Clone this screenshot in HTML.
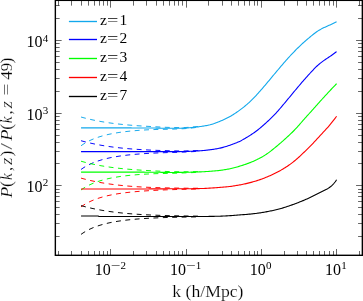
<!DOCTYPE html>
<html><head><meta charset="utf-8"><style>
html,body{margin:0;padding:0;background:#fff;}
svg{display:block;}
text{font-family:"Liberation Serif",serif;fill:#000;}
.al{stroke:#fff;stroke-width:0.18px;}
</style></head><body>
<svg width="363" height="301" viewBox="0 0 363 301">
<g stroke-linecap="butt" stroke-linejoin="round">
<path d="M81.05 127.90L82.05 127.90L83.05 127.90L84.05 127.90L85.05 127.90L86.05 127.90L87.05 127.90L88.05 127.90L89.05 127.90L90.05 127.90L91.05 127.90L92.05 127.90L93.05 127.90L94.05 127.90L95.05 127.90L96.05 127.90L97.05 127.90L98.05 127.90L99.05 127.90L100.05 127.90L101.05 127.90L102.05 127.90L103.05 127.90L104.05 127.90L105.05 127.90L106.05 127.90L107.05 127.90L108.05 127.90L109.05 127.90L110.05 127.90L111.05 127.90L112.05 127.90L113.05 127.90L114.05 127.90L115.05 127.90L116.05 127.90L117.05 127.90L118.05 127.90L119.05 127.90L120.05 127.90L121.05 127.90L122.05 127.91L123.05 127.91L124.05 127.91L125.05 127.91L126.05 127.91L127.05 127.91L128.05 127.92L129.05 127.92L130.05 127.92L131.05 127.92L132.05 127.93L133.05 127.93L134.05 127.93L135.05 127.94L136.05 127.94L137.05 127.94L138.05 127.95L139.05 127.95L140.05 127.95L141.05 127.96L142.05 127.96L143.05 127.97L144.05 127.97L145.05 127.98L146.05 127.98L147.05 127.99L148.05 127.99L149.05 128.00L150.05 128.01L151.05 128.02L152.05 128.03L153.05 128.04L154.05 128.05L155.05 128.07L156.05 128.09L157.05 128.10L158.05 128.12L159.05 128.14L160.05 128.16L161.05 128.18L162.05 128.20L163.05 128.22L164.05 128.23L165.05 128.25L166.05 128.26L167.05 128.27L168.05 128.28L169.05 128.29L170.05 128.29L171.05 128.29L172.05 128.29L173.05 128.28L174.05 128.28L175.05 128.27L176.05 128.26L177.05 128.25L178.05 128.23L179.05 128.22L180.05 128.20L181.05 128.18L182.05 128.15L183.05 128.12L184.05 128.09L185.05 128.04L186.05 127.99L187.05 127.92L188.05 127.85L189.05 127.77L190.05 127.68L191.05 127.59L192.05 127.49L193.05 127.39L194.05 127.29L195.05 127.18L196.05 127.07L197.05 126.95L198.05 126.83L199.05 126.70L200.05 126.57L201.05 126.43L202.05 126.29L203.05 126.14L204.05 125.98L205.05 125.82L206.05 125.64L207.05 125.45L208.05 125.24L209.05 125.02L210.05 124.78L211.05 124.51L212.05 124.22L213.05 123.91L214.05 123.58L215.05 123.22L216.05 122.85L217.05 122.47L218.05 122.07L219.05 121.67L220.05 121.25L221.05 120.83L222.05 120.40L223.05 119.96L224.05 119.50L225.05 119.04L226.05 118.56L227.05 118.06L228.05 117.55L229.05 117.02L230.05 116.47L231.05 115.90L232.05 115.31L233.05 114.70L234.05 114.06L235.05 113.41L236.05 112.74L237.05 112.05L238.05 111.35L239.05 110.63L240.05 109.90L241.05 109.16L242.05 108.39L243.05 107.62L244.05 106.82L245.05 106.01L246.05 105.18L247.05 104.32L248.05 103.45L249.05 102.55L250.05 101.62L251.05 100.67L252.05 99.69L253.05 98.68L254.05 97.65L255.05 96.60L256.05 95.52L257.05 94.44L258.05 93.33L259.05 92.22L260.05 91.09L261.05 89.95L262.05 88.80L263.05 87.64L264.05 86.47L265.05 85.29L266.05 84.11L267.05 82.92L268.05 81.72L269.05 80.53L270.05 79.33L271.05 78.13L272.05 76.93L273.05 75.72L274.05 74.52L275.05 73.32L276.05 72.12L277.05 70.92L278.05 69.73L279.05 68.54L280.05 67.36L281.05 66.19L282.05 65.02L283.05 63.86L284.05 62.71L285.05 61.56L286.05 60.43L287.05 59.30L288.05 58.19L289.05 57.09L290.05 56.00L291.05 54.92L292.05 53.86L293.05 52.80L294.05 51.76L295.05 50.74L296.05 49.72L297.05 48.73L298.05 47.74L299.05 46.77L300.05 45.81L301.05 44.87L302.05 43.94L303.05 43.03L304.05 42.13L305.05 41.24L306.05 40.37L307.05 39.51L308.05 38.65L309.05 37.81L310.05 36.98L311.05 36.16L312.05 35.35L313.05 34.55L314.05 33.77L315.05 33.01L316.05 32.27L317.05 31.57L318.05 30.90L319.05 30.26L320.05 29.66L321.05 29.11L322.05 28.58L323.05 28.09L324.05 27.61L325.05 27.16L326.05 26.71L327.05 26.27L328.05 25.82L329.05 25.37L330.05 24.91L331.05 24.44L332.05 23.96L333.05 23.47L334.05 22.97L335.05 22.47L336.05 21.96L336.58 21.69" stroke="#12a8ec" stroke-width="1.1" fill="none"/>
<path d="M81.05 117.03L82.05 117.31L83.05 117.58L84.05 117.85L85.05 118.11L86.05 118.36L87.05 118.61L88.05 118.86L89.05 119.09L90.05 119.33L91.05 119.55L92.05 119.78L93.05 119.99L94.05 120.20L95.05 120.41L96.05 120.61L97.05 120.81L98.05 121.00L99.05 121.19L100.05 121.37L101.05 121.55L102.05 121.72L103.05 121.89L104.05 122.06L105.05 122.22L106.05 122.38L107.05 122.53L108.05 122.68L109.05 122.83L110.05 122.97L111.05 123.10L112.05 123.24L113.05 123.37L114.05 123.50L115.05 123.62L116.05 123.74L117.05 123.86L118.05 123.98L119.05 124.09L120.05 124.20L121.05 124.30L122.05 124.41L123.05 124.51L124.05 124.61L125.05 124.70L126.05 124.80L127.05 124.89L128.05 124.98L129.05 125.07L130.05 125.15L131.05 125.23L132.05 125.31L133.05 125.39L134.05 125.47L135.05 125.54L136.05 125.62L137.05 125.69L138.05 125.76L139.05 125.83L140.05 125.89L141.05 125.96L142.05 126.02L143.05 126.08L144.05 126.14L145.05 126.20L146.05 126.26L147.05 126.31L148.05 126.37L149.05 126.42L150.05 126.48L151.05 126.53L152.05 126.58L153.05 126.64L154.05 126.70L155.05 126.75L156.05 126.81L157.05 126.86L158.05 126.92L159.05 126.97L160.05 127.03L161.05 127.08L162.05 127.13L163.05 127.18L164.05 127.23L165.05 127.27L166.05 127.32L167.05 127.35L168.05 127.39L169.05 127.42L170.05 127.45L171.05 127.47L172.05 127.50L173.05 127.52L174.05 127.53L175.05 127.55L176.05 127.56L177.05 127.57L178.05 127.57L179.05 127.58L180.05 127.58L181.05 127.58L182.05 127.57L183.05 127.56L184.05 127.54L185.05 127.51L186.05 127.47L187.05 127.42L188.05 127.36L189.05 127.30L190.05 127.23L191.05 127.15L192.05 127.06L193.05 126.97L194.05 126.88L195.05 126.79L196.05 126.68L197.05 126.58L198.05 126.47L199.05 126.35" stroke="#12a8ec" stroke-width="1.0" fill="none" stroke-dasharray="4.9 4.5"/>
<path d="M81.05 145.77L82.05 145.05L83.05 144.37L84.05 143.73L85.05 143.11L86.05 142.53L87.05 141.97L88.05 141.44L89.05 140.93L90.05 140.45L91.05 139.99L92.05 139.55L93.05 139.13L94.05 138.72L95.05 138.34L96.05 137.97L97.05 137.61L98.05 137.27L99.05 136.94L100.05 136.63L101.05 136.33L102.05 136.04L103.05 135.76L104.05 135.49L105.05 135.23L106.05 134.98L107.05 134.74L108.05 134.51L109.05 134.29L110.05 134.08L111.05 133.88L112.05 133.68L113.05 133.49L114.05 133.30L115.05 133.13L116.05 132.96L117.05 132.79L118.05 132.63L119.05 132.48L120.05 132.33L121.05 132.19L122.05 132.05L123.05 131.92L124.05 131.79L125.05 131.67L126.05 131.55L127.05 131.44L128.05 131.33L129.05 131.22L130.05 131.12L131.05 131.02L132.05 130.93L133.05 130.83L134.05 130.75L135.05 130.66L136.05 130.58L137.05 130.50L138.05 130.42L139.05 130.35L140.05 130.28L141.05 130.21L142.05 130.14L143.05 130.08L144.05 130.02L145.05 129.96L146.05 129.90L147.05 129.85L148.05 129.80L149.05 129.75L150.05 129.70L151.05 129.66L152.05 129.62L153.05 129.58L154.05 129.55L155.05 129.52L156.05 129.49L157.05 129.46L158.05 129.44L159.05 129.42L160.05 129.40L161.05 129.38L162.05 129.36L163.05 129.35L164.05 129.33L165.05 129.31L166.05 129.29L167.05 129.27L168.05 129.25L169.05 129.22L170.05 129.20L171.05 129.17L172.05 129.14L173.05 129.11L174.05 129.08L175.05 129.04L176.05 129.01L177.05 128.98L178.05 128.94L179.05 128.90L180.05 128.86L181.05 128.82L182.05 128.78L183.05 128.73L184.05 128.67L185.05 128.61L186.05 128.54L187.05 128.46L188.05 128.37L189.05 128.27L190.05 128.17L191.05 128.06L192.05 127.95L193.05 127.84L194.05 127.72L195.05 127.60L196.05 127.47L197.05 127.34L198.05 127.21L199.05 127.07" stroke="#12a8ec" stroke-width="1.0" fill="none" stroke-dasharray="4.9 4.5"/>
<path d="M81.05 151.60L82.05 151.60L83.05 151.60L84.05 151.60L85.05 151.60L86.05 151.60L87.05 151.60L88.05 151.60L89.05 151.60L90.05 151.60L91.05 151.60L92.05 151.60L93.05 151.60L94.05 151.60L95.05 151.60L96.05 151.60L97.05 151.60L98.05 151.60L99.05 151.60L100.05 151.60L101.05 151.60L102.05 151.60L103.05 151.60L104.05 151.60L105.05 151.60L106.05 151.60L107.05 151.60L108.05 151.60L109.05 151.60L110.05 151.60L111.05 151.60L112.05 151.60L113.05 151.60L114.05 151.60L115.05 151.60L116.05 151.60L117.05 151.60L118.05 151.60L119.05 151.60L120.05 151.60L121.05 151.60L122.05 151.60L123.05 151.60L124.05 151.60L125.05 151.60L126.05 151.60L127.05 151.60L128.05 151.60L129.05 151.60L130.05 151.60L131.05 151.60L132.05 151.60L133.05 151.60L134.05 151.60L135.05 151.60L136.05 151.60L137.05 151.60L138.05 151.60L139.05 151.60L140.05 151.60L141.05 151.60L142.05 151.60L143.05 151.60L144.05 151.60L145.05 151.60L146.05 151.60L147.05 151.60L148.05 151.60L149.05 151.60L150.05 151.60L151.05 151.60L152.05 151.60L153.05 151.60L154.05 151.60L155.05 151.60L156.05 151.60L157.05 151.60L158.05 151.60L159.05 151.60L160.05 151.60L161.05 151.60L162.05 151.60L163.05 151.60L164.05 151.60L165.05 151.60L166.05 151.60L167.05 151.60L168.05 151.60L169.05 151.60L170.05 151.60L171.05 151.60L172.05 151.60L173.05 151.60L174.05 151.60L175.05 151.60L176.05 151.60L177.05 151.60L178.05 151.59L179.05 151.59L180.05 151.58L181.05 151.57L182.05 151.55L183.05 151.53L184.05 151.51L185.05 151.48L186.05 151.45L187.05 151.41L188.05 151.37L189.05 151.34L190.05 151.30L191.05 151.25L192.05 151.21L193.05 151.17L194.05 151.12L195.05 151.07L196.05 151.02L197.05 150.96L198.05 150.90L199.05 150.84L200.05 150.77L201.05 150.70L202.05 150.62L203.05 150.53L204.05 150.44L205.05 150.34L206.05 150.24L207.05 150.13L208.05 150.01L209.05 149.90L210.05 149.77L211.05 149.64L212.05 149.51L213.05 149.37L214.05 149.22L215.05 149.06L216.05 148.89L217.05 148.72L218.05 148.53L219.05 148.33L220.05 148.11L221.05 147.88L222.05 147.63L223.05 147.36L224.05 147.08L225.05 146.79L226.05 146.48L227.05 146.16L228.05 145.84L229.05 145.50L230.05 145.16L231.05 144.81L232.05 144.46L233.05 144.09L234.05 143.72L235.05 143.33L236.05 142.93L237.05 142.52L238.05 142.08L239.05 141.63L240.05 141.16L241.05 140.66L242.05 140.13L243.05 139.59L244.05 139.02L245.05 138.44L246.05 137.84L247.05 137.23L248.05 136.61L249.05 135.99L250.05 135.36L251.05 134.72L252.05 134.07L253.05 133.40L254.05 132.72L255.05 132.01L256.05 131.27L257.05 130.51L258.05 129.73L259.05 128.92L260.05 128.08L261.05 127.24L262.05 126.37L263.05 125.50L264.05 124.61L265.05 123.72L266.05 122.81L267.05 121.90L268.05 120.98L269.05 120.05L270.05 119.11L271.05 118.16L272.05 117.19L273.05 116.19L274.05 115.17L275.05 114.12L276.05 113.04L277.05 111.94L278.05 110.81L279.05 109.66L280.05 108.50L281.05 107.33L282.05 106.15L283.05 104.96L284.05 103.76L285.05 102.56L286.05 101.36L287.05 100.16L288.05 98.95L289.05 97.74L290.05 96.54L291.05 95.33L292.05 94.13L293.05 92.92L294.05 91.72L295.05 90.52L296.05 89.32L297.05 88.12L298.05 86.93L299.05 85.74L300.05 84.57L301.05 83.39L302.05 82.23L303.05 81.07L304.05 79.93L305.05 78.79L306.05 77.67L307.05 76.55L308.05 75.44L309.05 74.34L310.05 73.25L311.05 72.16L312.05 71.09L313.05 70.03L314.05 68.99L315.05 67.97L316.05 66.98L317.05 66.02L318.05 65.10L319.05 64.22L320.05 63.39L321.05 62.59L322.05 61.84L323.05 61.12L324.05 60.42L325.05 59.74L326.05 59.08L327.05 58.41L328.05 57.75L329.05 57.07L330.05 56.38L331.05 55.68L332.05 54.96L333.05 54.23L334.05 53.49L335.05 52.74L336.05 51.98L336.58 51.59" stroke="#0000ff" stroke-width="1.1" fill="none"/>
<path d="M81.05 140.73L82.05 141.01L83.05 141.28L84.05 141.55L85.05 141.81L86.05 142.06L87.05 142.31L88.05 142.56L89.05 142.79L90.05 143.03L91.05 143.25L92.05 143.48L93.05 143.69L94.05 143.90L95.05 144.11L96.05 144.31L97.05 144.51L98.05 144.70L99.05 144.89L100.05 145.07L101.05 145.25L102.05 145.42L103.05 145.59L104.05 145.76L105.05 145.92L106.05 146.08L107.05 146.23L108.05 146.38L109.05 146.53L110.05 146.67L111.05 146.80L112.05 146.94L113.05 147.07L114.05 147.20L115.05 147.32L116.05 147.44L117.05 147.56L118.05 147.67L119.05 147.79L120.05 147.89L121.05 148.00L122.05 148.10L123.05 148.20L124.05 148.30L125.05 148.39L126.05 148.49L127.05 148.58L128.05 148.66L129.05 148.75L130.05 148.83L131.05 148.91L132.05 148.99L133.05 149.06L134.05 149.14L135.05 149.21L136.05 149.28L137.05 149.35L138.05 149.41L139.05 149.48L140.05 149.54L141.05 149.60L142.05 149.66L143.05 149.71L144.05 149.77L145.05 149.82L146.05 149.87L147.05 149.93L148.05 149.97L149.05 150.02L150.05 150.07L151.05 150.11L152.05 150.16L153.05 150.20L154.05 150.24L155.05 150.28L156.05 150.32L157.05 150.36L158.05 150.40L159.05 150.43L160.05 150.47L161.05 150.50L162.05 150.53L163.05 150.56L164.05 150.59L165.05 150.62L166.05 150.65L167.05 150.68L168.05 150.71L169.05 150.74L170.05 150.76L171.05 150.79L172.05 150.81L173.05 150.83L174.05 150.86L175.05 150.88L176.05 150.90L177.05 150.92L178.05 150.94L179.05 150.95L180.05 150.96L181.05 150.97L182.05 150.97L183.05 150.97L184.05 150.96L185.05 150.95L186.05 150.93L187.05 150.91L188.05 150.89L189.05 150.86L190.05 150.84L191.05 150.81L192.05 150.78L193.05 150.75L194.05 150.71L195.05 150.68L196.05 150.64L197.05 150.59L198.05 150.54L199.05 150.49" stroke="#0000ff" stroke-width="1.0" fill="none" stroke-dasharray="4.9 4.5"/>
<path d="M81.05 169.47L82.05 168.75L83.05 168.07L84.05 167.43L85.05 166.81L86.05 166.23L87.05 165.67L88.05 165.14L89.05 164.63L90.05 164.15L91.05 163.69L92.05 163.25L93.05 162.83L94.05 162.42L95.05 162.04L96.05 161.67L97.05 161.31L98.05 160.97L99.05 160.64L100.05 160.33L101.05 160.03L102.05 159.74L103.05 159.46L104.05 159.19L105.05 158.93L106.05 158.68L107.05 158.44L108.05 158.21L109.05 157.99L110.05 157.78L111.05 157.58L112.05 157.38L113.05 157.19L114.05 157.00L115.05 156.83L116.05 156.66L117.05 156.49L118.05 156.33L119.05 156.18L120.05 156.03L121.05 155.89L122.05 155.75L123.05 155.61L124.05 155.49L125.05 155.36L126.05 155.24L127.05 155.12L128.05 155.01L129.05 154.90L130.05 154.80L131.05 154.70L132.05 154.60L133.05 154.51L134.05 154.41L135.05 154.32L136.05 154.24L137.05 154.16L138.05 154.08L139.05 154.00L140.05 153.92L141.05 153.85L142.05 153.78L143.05 153.71L144.05 153.65L145.05 153.58L146.05 153.52L147.05 153.46L148.05 153.40L149.05 153.35L150.05 153.29L151.05 153.24L152.05 153.19L153.05 153.14L154.05 153.09L155.05 153.05L156.05 153.00L157.05 152.96L158.05 152.92L159.05 152.88L160.05 152.84L161.05 152.80L162.05 152.76L163.05 152.73L164.05 152.69L165.05 152.66L166.05 152.63L167.05 152.60L168.05 152.56L169.05 152.54L170.05 152.51L171.05 152.48L172.05 152.45L173.05 152.43L174.05 152.40L175.05 152.38L176.05 152.35L177.05 152.33L178.05 152.30L179.05 152.27L180.05 152.25L181.05 152.21L182.05 152.18L183.05 152.14L184.05 152.10L185.05 152.05L186.05 152.00L187.05 151.95L188.05 151.89L189.05 151.84L190.05 151.78L191.05 151.73L192.05 151.67L193.05 151.61L194.05 151.55L195.05 151.49L196.05 151.42L197.05 151.36L198.05 151.28L199.05 151.21" stroke="#0000ff" stroke-width="1.0" fill="none" stroke-dasharray="4.9 4.5"/>
<path d="M81.05 172.10L82.05 172.10L83.05 172.10L84.05 172.10L85.05 172.10L86.05 172.10L87.05 172.10L88.05 172.10L89.05 172.10L90.05 172.10L91.05 172.10L92.05 172.10L93.05 172.10L94.05 172.10L95.05 172.10L96.05 172.10L97.05 172.10L98.05 172.10L99.05 172.10L100.05 172.10L101.05 172.10L102.05 172.10L103.05 172.10L104.05 172.10L105.05 172.10L106.05 172.10L107.05 172.10L108.05 172.10L109.05 172.10L110.05 172.10L111.05 172.10L112.05 172.10L113.05 172.10L114.05 172.10L115.05 172.10L116.05 172.10L117.05 172.10L118.05 172.10L119.05 172.10L120.05 172.10L121.05 172.10L122.05 172.11L123.05 172.11L124.05 172.11L125.05 172.11L126.05 172.11L127.05 172.11L128.05 172.12L129.05 172.12L130.05 172.12L131.05 172.12L132.05 172.13L133.05 172.13L134.05 172.13L135.05 172.14L136.05 172.14L137.05 172.14L138.05 172.15L139.05 172.15L140.05 172.16L141.05 172.16L142.05 172.16L143.05 172.17L144.05 172.17L145.05 172.18L146.05 172.18L147.05 172.19L148.05 172.19L149.05 172.20L150.05 172.20L151.05 172.21L152.05 172.22L153.05 172.23L154.05 172.24L155.05 172.25L156.05 172.27L157.05 172.28L158.05 172.29L159.05 172.31L160.05 172.32L161.05 172.34L162.05 172.35L163.05 172.37L164.05 172.38L165.05 172.39L166.05 172.40L167.05 172.42L168.05 172.42L169.05 172.43L170.05 172.44L171.05 172.44L172.05 172.44L173.05 172.44L174.05 172.44L175.05 172.43L176.05 172.42L177.05 172.41L178.05 172.40L179.05 172.39L180.05 172.38L181.05 172.36L182.05 172.35L183.05 172.33L184.05 172.31L185.05 172.30L186.05 172.28L187.05 172.26L188.05 172.24L189.05 172.22L190.05 172.19L191.05 172.17L192.05 172.15L193.05 172.12L194.05 172.09L195.05 172.06L196.05 172.03L197.05 172.00L198.05 171.96L199.05 171.92L200.05 171.88L201.05 171.84L202.05 171.79L203.05 171.74L204.05 171.68L205.05 171.62L206.05 171.56L207.05 171.50L208.05 171.43L209.05 171.36L210.05 171.29L211.05 171.21L212.05 171.13L213.05 171.05L214.05 170.97L215.05 170.88L216.05 170.79L217.05 170.69L218.05 170.59L219.05 170.48L220.05 170.36L221.05 170.24L222.05 170.10L223.05 169.96L224.05 169.82L225.05 169.66L226.05 169.49L227.05 169.32L228.05 169.13L229.05 168.94L230.05 168.73L231.05 168.51L232.05 168.28L233.05 168.04L234.05 167.78L235.05 167.52L236.05 167.24L237.05 166.96L238.05 166.66L239.05 166.37L240.05 166.06L241.05 165.75L242.05 165.44L243.05 165.12L244.05 164.79L245.05 164.45L246.05 164.11L247.05 163.75L248.05 163.39L249.05 163.02L250.05 162.63L251.05 162.24L252.05 161.83L253.05 161.41L254.05 160.98L255.05 160.54L256.05 160.08L257.05 159.61L258.05 159.11L259.05 158.61L260.05 158.08L261.05 157.53L262.05 156.96L263.05 156.37L264.05 155.76L265.05 155.13L266.05 154.48L267.05 153.80L268.05 153.09L269.05 152.37L270.05 151.62L271.05 150.84L272.05 150.05L273.05 149.24L274.05 148.43L275.05 147.61L276.05 146.79L277.05 145.96L278.05 145.13L279.05 144.29L280.05 143.43L281.05 142.57L282.05 141.68L283.05 140.79L284.05 139.88L285.05 138.98L286.05 138.07L287.05 137.16L288.05 136.24L289.05 135.32L290.05 134.40L291.05 133.45L292.05 132.49L293.05 131.51L294.05 130.49L295.05 129.45L296.05 128.37L297.05 127.27L298.05 126.15L299.05 125.02L300.05 123.88L301.05 122.74L302.05 121.60L303.05 120.47L304.05 119.34L305.05 118.22L306.05 117.10L307.05 115.98L308.05 114.87L309.05 113.75L310.05 112.63L311.05 111.51L312.05 110.39L313.05 109.27L314.05 108.15L315.05 107.03L316.05 105.91L317.05 104.79L318.05 103.67L319.05 102.56L320.05 101.45L321.05 100.35L322.05 99.25L323.05 98.15L324.05 97.05L325.05 95.96L326.05 94.87L327.05 93.79L328.05 92.71L329.05 91.64L330.05 90.57L331.05 89.50L332.05 88.44L333.05 87.39L334.05 86.34L335.05 85.30L336.05 84.25L336.58 83.71" stroke="#00ff00" stroke-width="1.1" fill="none"/>
<path d="M81.05 161.23L82.05 161.51L83.05 161.78L84.05 162.05L85.05 162.31L86.05 162.56L87.05 162.81L88.05 163.06L89.05 163.29L90.05 163.53L91.05 163.75L92.05 163.98L93.05 164.19L94.05 164.40L95.05 164.61L96.05 164.81L97.05 165.01L98.05 165.20L99.05 165.39L100.05 165.57L101.05 165.75L102.05 165.92L103.05 166.09L104.05 166.26L105.05 166.42L106.05 166.58L107.05 166.73L108.05 166.88L109.05 167.03L110.05 167.17L111.05 167.30L112.05 167.44L113.05 167.57L114.05 167.70L115.05 167.82L116.05 167.94L117.05 168.06L118.05 168.18L119.05 168.29L120.05 168.40L121.05 168.50L122.05 168.61L123.05 168.71L124.05 168.81L125.05 168.91L126.05 169.00L127.05 169.09L128.05 169.18L129.05 169.27L130.05 169.35L131.05 169.44L132.05 169.52L133.05 169.59L134.05 169.67L135.05 169.75L136.05 169.82L137.05 169.89L138.05 169.96L139.05 170.03L140.05 170.09L141.05 170.16L142.05 170.22L143.05 170.28L144.05 170.34L145.05 170.40L146.05 170.46L147.05 170.51L148.05 170.57L149.05 170.62L150.05 170.67L151.05 170.73L152.05 170.78L153.05 170.83L154.05 170.88L155.05 170.93L156.05 170.99L157.05 171.04L158.05 171.09L159.05 171.14L160.05 171.19L161.05 171.24L162.05 171.28L163.05 171.33L164.05 171.37L165.05 171.42L166.05 171.46L167.05 171.50L168.05 171.53L169.05 171.57L170.05 171.60L171.05 171.62L172.05 171.65L173.05 171.67L174.05 171.69L175.05 171.71L176.05 171.72L177.05 171.74L178.05 171.75L179.05 171.75L180.05 171.76L181.05 171.76L182.05 171.76L183.05 171.76L184.05 171.76L185.05 171.76L186.05 171.76L187.05 171.76L188.05 171.75L189.05 171.74L190.05 171.74L191.05 171.73L192.05 171.72L193.05 171.70L194.05 171.69L195.05 171.67L196.05 171.65L197.05 171.63L198.05 171.60L199.05 171.58" stroke="#00ff00" stroke-width="1.0" fill="none" stroke-dasharray="4.9 4.5"/>
<path d="M81.05 189.97L82.05 189.25L83.05 188.57L84.05 187.93L85.05 187.31L86.05 186.73L87.05 186.17L88.05 185.64L89.05 185.13L90.05 184.65L91.05 184.19L92.05 183.75L93.05 183.33L94.05 182.92L95.05 182.54L96.05 182.17L97.05 181.81L98.05 181.47L99.05 181.14L100.05 180.83L101.05 180.53L102.05 180.24L103.05 179.96L104.05 179.69L105.05 179.43L106.05 179.18L107.05 178.94L108.05 178.71L109.05 178.49L110.05 178.28L111.05 178.08L112.05 177.88L113.05 177.69L114.05 177.50L115.05 177.33L116.05 177.16L117.05 176.99L118.05 176.83L119.05 176.68L120.05 176.53L121.05 176.39L122.05 176.25L123.05 176.12L124.05 175.99L125.05 175.87L126.05 175.75L127.05 175.64L128.05 175.53L129.05 175.42L130.05 175.32L131.05 175.22L132.05 175.13L133.05 175.04L134.05 174.95L135.05 174.86L136.05 174.78L137.05 174.70L138.05 174.62L139.05 174.55L140.05 174.48L141.05 174.41L142.05 174.34L143.05 174.28L144.05 174.22L145.05 174.16L146.05 174.10L147.05 174.05L148.05 174.00L149.05 173.95L150.05 173.90L151.05 173.85L152.05 173.81L153.05 173.77L154.05 173.73L155.05 173.70L156.05 173.67L157.05 173.64L158.05 173.61L159.05 173.59L160.05 173.56L161.05 173.54L162.05 173.52L163.05 173.49L164.05 173.47L165.05 173.45L166.05 173.43L167.05 173.41L168.05 173.39L169.05 173.37L170.05 173.34L171.05 173.32L172.05 173.29L173.05 173.27L174.05 173.24L175.05 173.21L176.05 173.18L177.05 173.14L178.05 173.11L179.05 173.08L180.05 173.04L181.05 173.01L182.05 172.97L183.05 172.94L184.05 172.90L185.05 172.86L186.05 172.83L187.05 172.79L188.05 172.76L189.05 172.72L190.05 172.68L191.05 172.64L192.05 172.61L193.05 172.57L194.05 172.53L195.05 172.48L196.05 172.44L197.05 172.39L198.05 172.34L199.05 172.29" stroke="#00ff00" stroke-width="1.0" fill="none" stroke-dasharray="4.9 4.5"/>
<path d="M81.05 189.00L82.05 189.00L83.05 189.00L84.05 189.00L85.05 189.00L86.05 189.00L87.05 189.00L88.05 189.00L89.05 189.00L90.05 189.00L91.05 189.00L92.05 189.00L93.05 189.00L94.05 189.00L95.05 189.00L96.05 189.00L97.05 189.00L98.05 189.00L99.05 189.00L100.05 189.00L101.05 189.00L102.05 189.00L103.05 189.00L104.05 189.00L105.05 189.00L106.05 189.00L107.05 189.00L108.05 189.00L109.05 189.00L110.05 189.00L111.05 189.00L112.05 189.00L113.05 189.00L114.05 189.00L115.05 189.00L116.05 189.00L117.05 189.00L118.05 189.00L119.05 189.00L120.05 189.00L121.05 189.00L122.05 189.00L123.05 189.00L124.05 189.00L125.05 189.00L126.05 189.00L127.05 189.00L128.05 189.00L129.05 189.00L130.05 189.00L131.05 188.99L132.05 188.99L133.05 188.99L134.05 188.99L135.05 188.98L136.05 188.98L137.05 188.98L138.05 188.97L139.05 188.97L140.05 188.97L141.05 188.96L142.05 188.96L143.05 188.95L144.05 188.95L145.05 188.94L146.05 188.94L147.05 188.93L148.05 188.93L149.05 188.92L150.05 188.92L151.05 188.91L152.05 188.91L153.05 188.90L154.05 188.89L155.05 188.89L156.05 188.88L157.05 188.88L158.05 188.87L159.05 188.86L160.05 188.86L161.05 188.85L162.05 188.85L163.05 188.84L164.05 188.83L165.05 188.83L166.05 188.82L167.05 188.82L168.05 188.81L169.05 188.81L170.05 188.80L171.05 188.80L172.05 188.79L173.05 188.79L174.05 188.78L175.05 188.78L176.05 188.77L177.05 188.77L178.05 188.76L179.05 188.76L180.05 188.75L181.05 188.75L182.05 188.74L183.05 188.74L184.05 188.73L185.05 188.73L186.05 188.72L187.05 188.72L188.05 188.71L189.05 188.70L190.05 188.70L191.05 188.69L192.05 188.68L193.05 188.67L194.05 188.66L195.05 188.65L196.05 188.64L197.05 188.63L198.05 188.61L199.05 188.60L200.05 188.57L201.05 188.55L202.05 188.51L203.05 188.48L204.05 188.43L205.05 188.38L206.05 188.33L207.05 188.27L208.05 188.22L209.05 188.16L210.05 188.09L211.05 188.03L212.05 187.97L213.05 187.90L214.05 187.83L215.05 187.76L216.05 187.69L217.05 187.62L218.05 187.54L219.05 187.47L220.05 187.39L221.05 187.31L222.05 187.23L223.05 187.15L224.05 187.06L225.05 186.97L226.05 186.88L227.05 186.78L228.05 186.68L229.05 186.57L230.05 186.45L231.05 186.33L232.05 186.20L233.05 186.05L234.05 185.90L235.05 185.75L236.05 185.58L237.05 185.41L238.05 185.24L239.05 185.05L240.05 184.87L241.05 184.67L242.05 184.48L243.05 184.27L244.05 184.06L245.05 183.84L246.05 183.62L247.05 183.39L248.05 183.15L249.05 182.90L250.05 182.65L251.05 182.39L252.05 182.12L253.05 181.84L254.05 181.55L255.05 181.25L256.05 180.95L257.05 180.63L258.05 180.31L259.05 179.98L260.05 179.63L261.05 179.28L262.05 178.91L263.05 178.54L264.05 178.15L265.05 177.76L266.05 177.35L267.05 176.94L268.05 176.51L269.05 176.08L270.05 175.64L271.05 175.19L272.05 174.74L273.05 174.27L274.05 173.79L275.05 173.31L276.05 172.81L277.05 172.30L278.05 171.78L279.05 171.24L280.05 170.69L281.05 170.13L282.05 169.55L283.05 168.95L284.05 168.34L285.05 167.72L286.05 167.08L287.05 166.42L288.05 165.75L289.05 165.06L290.05 164.35L291.05 163.62L292.05 162.86L293.05 162.09L294.05 161.29L295.05 160.47L296.05 159.62L297.05 158.76L298.05 157.88L299.05 156.98L300.05 156.06L301.05 155.12L302.05 154.17L303.05 153.22L304.05 152.26L305.05 151.30L306.05 150.33L307.05 149.37L308.05 148.40L309.05 147.42L310.05 146.42L311.05 145.41L312.05 144.37L313.05 143.31L314.05 142.24L315.05 141.16L316.05 140.06L317.05 138.97L318.05 137.87L319.05 136.78L320.05 135.69L321.05 134.62L322.05 133.54L323.05 132.47L324.05 131.40L325.05 130.33L326.05 129.24L327.05 128.13L328.05 127.01L329.05 125.86L330.05 124.67L331.05 123.46L332.05 122.22L333.05 120.94L334.05 119.64L335.05 118.31L336.05 116.97L336.58 116.26" stroke="#ff0000" stroke-width="1.1" fill="none"/>
<path d="M81.05 178.13L82.05 178.41L83.05 178.68L84.05 178.95L85.05 179.21L86.05 179.46L87.05 179.71L88.05 179.96L89.05 180.19L90.05 180.43L91.05 180.65L92.05 180.88L93.05 181.09L94.05 181.30L95.05 181.51L96.05 181.71L97.05 181.91L98.05 182.10L99.05 182.29L100.05 182.47L101.05 182.65L102.05 182.82L103.05 182.99L104.05 183.16L105.05 183.32L106.05 183.48L107.05 183.63L108.05 183.78L109.05 183.93L110.05 184.07L111.05 184.20L112.05 184.34L113.05 184.47L114.05 184.60L115.05 184.72L116.05 184.84L117.05 184.96L118.05 185.07L119.05 185.19L120.05 185.29L121.05 185.40L122.05 185.50L123.05 185.60L124.05 185.70L125.05 185.79L126.05 185.89L127.05 185.97L128.05 186.06L129.05 186.14L130.05 186.23L131.05 186.30L132.05 186.38L133.05 186.45L134.05 186.52L135.05 186.59L136.05 186.66L137.05 186.72L138.05 186.79L139.05 186.85L140.05 186.90L141.05 186.96L142.05 187.01L143.05 187.07L144.05 187.12L145.05 187.17L146.05 187.21L147.05 187.26L148.05 187.30L149.05 187.34L150.05 187.39L151.05 187.43L152.05 187.46L153.05 187.50L154.05 187.54L155.05 187.57L156.05 187.60L157.05 187.63L158.05 187.67L159.05 187.70L160.05 187.72L161.05 187.75L162.05 187.78L163.05 187.80L164.05 187.83L165.05 187.85L166.05 187.88L167.05 187.90L168.05 187.92L169.05 187.94L170.05 187.96L171.05 187.98L172.05 188.00L173.05 188.02L174.05 188.04L175.05 188.05L176.05 188.07L177.05 188.09L178.05 188.10L179.05 188.12L180.05 188.13L181.05 188.15L182.05 188.16L183.05 188.17L184.05 188.18L185.05 188.20L186.05 188.21L187.05 188.22L188.05 188.22L189.05 188.23L190.05 188.24L191.05 188.25L192.05 188.25L193.05 188.26L194.05 188.26L195.05 188.26L196.05 188.26L197.05 188.26L198.05 188.26L199.05 188.25" stroke="#ff0000" stroke-width="1.0" fill="none" stroke-dasharray="4.9 4.5"/>
<path d="M81.05 206.87L82.05 206.15L83.05 205.47L84.05 204.83L85.05 204.21L86.05 203.63L87.05 203.07L88.05 202.54L89.05 202.03L90.05 201.55L91.05 201.09L92.05 200.65L93.05 200.23L94.05 199.82L95.05 199.44L96.05 199.07L97.05 198.71L98.05 198.37L99.05 198.04L100.05 197.73L101.05 197.43L102.05 197.14L103.05 196.86L104.05 196.59L105.05 196.33L106.05 196.08L107.05 195.84L108.05 195.61L109.05 195.39L110.05 195.18L111.05 194.98L112.05 194.78L113.05 194.59L114.05 194.40L115.05 194.23L116.05 194.06L117.05 193.89L118.05 193.73L119.05 193.58L120.05 193.43L121.05 193.29L122.05 193.15L123.05 193.01L124.05 192.89L125.05 192.76L126.05 192.64L127.05 192.52L128.05 192.41L129.05 192.30L130.05 192.19L131.05 192.09L132.05 191.99L133.05 191.89L134.05 191.80L135.05 191.71L136.05 191.62L137.05 191.53L138.05 191.45L139.05 191.37L140.05 191.29L141.05 191.21L142.05 191.14L143.05 191.07L144.05 191.00L145.05 190.93L146.05 190.86L147.05 190.80L148.05 190.73L149.05 190.67L150.05 190.61L151.05 190.55L152.05 190.50L153.05 190.44L154.05 190.39L155.05 190.34L156.05 190.29L157.05 190.24L158.05 190.19L159.05 190.14L160.05 190.10L161.05 190.05L162.05 190.01L163.05 189.97L164.05 189.93L165.05 189.89L166.05 189.85L167.05 189.81L168.05 189.78L169.05 189.74L170.05 189.71L171.05 189.67L172.05 189.64L173.05 189.61L174.05 189.58L175.05 189.55L176.05 189.52L177.05 189.50L178.05 189.47L179.05 189.44L180.05 189.42L181.05 189.39L182.05 189.37L183.05 189.35L184.05 189.32L185.05 189.30L186.05 189.28L187.05 189.25L188.05 189.23L189.05 189.21L190.05 189.19L191.05 189.16L192.05 189.14L193.05 189.12L194.05 189.10L195.05 189.07L196.05 189.05L197.05 189.02L198.05 189.00L199.05 188.97" stroke="#ff0000" stroke-width="1.0" fill="none" stroke-dasharray="4.9 4.5"/>
<path d="M81.05 216.00L82.05 216.00L83.05 216.00L84.05 216.00L85.05 216.00L86.05 216.00L87.05 216.00L88.05 216.00L89.05 216.00L90.05 216.00L91.05 216.00L92.05 216.00L93.05 216.00L94.05 216.00L95.05 216.00L96.05 216.00L97.05 216.00L98.05 216.00L99.05 216.50L100.05 216.50L101.05 216.50L102.05 216.50L103.05 216.50L104.05 216.50L105.05 216.50L106.05 216.50L107.05 216.50L108.05 216.50L109.05 216.50L110.05 216.50L111.05 216.50L112.05 216.50L113.05 216.50L114.05 216.50L115.05 216.50L116.05 216.50L117.05 216.50L118.05 216.50L119.05 216.50L120.05 216.50L121.05 216.50L122.05 216.50L123.05 216.50L124.05 216.50L125.05 216.50L126.05 216.50L127.05 216.50L128.05 216.50L129.05 216.50L130.05 216.50L131.05 216.50L132.05 216.50L133.05 216.50L134.05 216.50L135.05 216.50L136.05 216.50L137.05 216.50L138.05 216.50L139.05 216.50L140.05 216.50L141.05 216.50L142.05 216.50L143.05 216.50L144.05 216.50L145.05 216.50L146.05 216.50L147.05 216.50L148.05 216.50L149.05 216.50L150.05 216.50L151.05 216.50L152.05 216.50L153.05 216.50L154.05 216.50L155.05 216.50L156.05 216.50L157.05 216.50L158.05 216.50L159.05 216.50L160.05 216.50L161.05 216.50L162.05 216.50L163.05 216.50L164.05 216.50L165.05 216.50L166.05 216.50L167.05 216.50L168.05 216.50L169.05 216.50L170.05 216.50L171.05 216.50L172.05 216.50L173.05 216.50L174.05 216.50L175.05 216.50L176.05 216.50L177.05 216.50L178.05 216.50L179.05 216.50L180.05 216.50L181.05 216.50L182.05 216.50L183.05 216.50L184.05 216.50L185.05 216.50L186.05 216.50L187.05 216.50L188.05 216.50L189.05 216.50L190.05 216.50L191.05 216.50L192.05 216.50L193.05 216.50L194.05 216.50L195.05 216.50L196.05 216.50L197.05 216.50L198.05 216.50L199.05 216.50L200.05 216.50L201.05 216.49L202.05 216.49L203.05 216.48L204.05 216.48L205.05 216.47L206.05 216.46L207.05 216.45L208.05 216.43L209.05 216.42L210.05 216.40L211.05 216.39L212.05 216.37L213.05 216.35L214.05 216.33L215.05 216.31L216.05 216.29L217.05 216.26L218.05 216.24L219.05 216.21L220.05 216.18L221.05 216.15L222.05 216.11L223.05 216.07L224.05 216.03L225.05 215.97L226.05 215.92L227.05 215.86L228.05 215.80L229.05 215.73L230.05 215.66L231.05 215.59L232.05 215.51L233.05 215.44L234.05 215.36L235.05 215.29L236.05 215.21L237.05 215.13L238.05 215.05L239.05 214.97L240.05 214.90L241.05 214.82L242.05 214.74L243.05 214.67L244.05 214.59L245.05 214.51L246.05 214.43L247.05 214.35L248.05 214.26L249.05 214.17L250.05 214.08L251.05 213.99L252.05 213.89L253.05 213.78L254.05 213.67L255.05 213.56L256.05 213.43L257.05 213.30L258.05 213.16L259.05 213.02L260.05 212.87L261.05 212.71L262.05 212.54L263.05 212.37L264.05 212.20L265.05 212.02L266.05 211.84L267.05 211.65L268.05 211.46L269.05 211.27L270.05 211.08L271.05 210.88L272.05 210.68L273.05 210.47L274.05 210.26L275.05 210.03L276.05 209.80L277.05 209.55L278.05 209.29L279.05 209.02L280.05 208.74L281.05 208.45L282.05 208.16L283.05 207.85L284.05 207.54L285.05 207.22L286.05 206.90L287.05 206.57L288.05 206.24L289.05 205.91L290.05 205.58L291.05 205.24L292.05 204.89L293.05 204.55L294.05 204.19L295.05 203.82L296.05 203.45L297.05 203.06L298.05 202.67L299.05 202.27L300.05 201.86L301.05 201.45L302.05 201.04L303.05 200.62L304.05 200.19L305.05 199.77L306.05 199.33L307.05 198.89L308.05 198.45L309.05 197.99L310.05 197.53L311.05 197.06L312.05 196.59L313.05 196.10L314.05 195.61L315.05 195.11L316.05 194.61L317.05 194.11L318.05 193.60L319.05 193.10L320.05 192.60L321.05 192.10L322.05 191.60L323.05 191.10L324.05 190.60L325.05 190.08L326.05 189.55L327.05 189.00L328.05 188.41L329.05 187.77L330.05 187.07L331.05 186.29L332.05 185.40L333.05 184.40L334.05 183.25L335.05 181.97L336.05 180.56L336.58 179.77" stroke="#000000" stroke-width="1.1" fill="none"/>
<path d="M81.05 205.63L82.05 205.91L83.05 206.18L84.05 206.45L85.05 206.71L86.05 206.96L87.05 207.21L88.05 207.46L89.05 207.69L90.05 207.93L91.05 208.15L92.05 208.38L93.05 208.59L94.05 208.80L95.05 209.01L96.05 209.21L97.05 209.41L98.05 209.60L99.05 209.79L100.05 209.97L101.05 210.15L102.05 210.32L103.05 210.49L104.05 210.66L105.05 210.82L106.05 210.98L107.05 211.13L108.05 211.28L109.05 211.43L110.05 211.57L111.05 211.70L112.05 211.84L113.05 211.97L114.05 212.10L115.05 212.22L116.05 212.34L117.05 212.46L118.05 212.57L119.05 212.69L120.05 212.79L121.05 212.90L122.05 213.00L123.05 213.10L124.05 213.20L125.05 213.29L126.05 213.39L127.05 213.48L128.05 213.56L129.05 213.65L130.05 213.73L131.05 213.81L132.05 213.89L133.05 213.96L134.05 214.04L135.05 214.11L136.05 214.18L137.05 214.25L138.05 214.31L139.05 214.38L140.05 214.44L141.05 214.50L142.05 214.56L143.05 214.61L144.05 214.67L145.05 214.72L146.05 214.77L147.05 214.83L148.05 214.87L149.05 214.92L150.05 214.97L151.05 215.01L152.05 215.06L153.05 215.10L154.05 215.14L155.05 215.18L156.05 215.22L157.05 215.26L158.05 215.30L159.05 215.33L160.05 215.37L161.05 215.40L162.05 215.43L163.05 215.46L164.05 215.49L165.05 215.52L166.05 215.55L167.05 215.58L168.05 215.61L169.05 215.64L170.05 215.66L171.05 215.69L172.05 215.71L173.05 215.73L174.05 215.76L175.05 215.78L176.05 215.80L177.05 215.82L178.05 215.84L179.05 215.86L180.05 215.88L181.05 215.90L182.05 215.92L183.05 215.93L184.05 215.95L185.05 215.97L186.05 215.98L187.05 216.00L188.05 216.01L189.05 216.03L190.05 216.04L191.05 216.06L192.05 216.07L193.05 216.08L194.05 216.09L195.05 216.11L196.05 216.12L197.05 216.13L198.05 216.14L199.05 216.15" stroke="#000000" stroke-width="1.0" fill="none" stroke-dasharray="4.9 4.5"/>
<path d="M81.05 234.37L82.05 233.65L83.05 232.97L84.05 232.33L85.05 231.71L86.05 231.13L87.05 230.57L88.05 230.04L89.05 229.53L90.05 229.05L91.05 228.59L92.05 228.15L93.05 227.73L94.05 227.32L95.05 226.94L96.05 226.57L97.05 226.21L98.05 225.87L99.05 225.54L100.05 225.23L101.05 224.93L102.05 224.64L103.05 224.36L104.05 224.09L105.05 223.83L106.05 223.58L107.05 223.34L108.05 223.11L109.05 222.89L110.05 222.68L111.05 222.48L112.05 222.28L113.05 222.09L114.05 221.90L115.05 221.73L116.05 221.56L117.05 221.39L118.05 221.23L119.05 221.08L120.05 220.93L121.05 220.79L122.05 220.65L123.05 220.51L124.05 220.39L125.05 220.26L126.05 220.14L127.05 220.02L128.05 219.91L129.05 219.80L130.05 219.70L131.05 219.60L132.05 219.50L133.05 219.41L134.05 219.31L135.05 219.22L136.05 219.14L137.05 219.06L138.05 218.98L139.05 218.90L140.05 218.82L141.05 218.75L142.05 218.68L143.05 218.61L144.05 218.55L145.05 218.48L146.05 218.42L147.05 218.36L148.05 218.30L149.05 218.25L150.05 218.19L151.05 218.14L152.05 218.09L153.05 218.04L154.05 217.99L155.05 217.95L156.05 217.90L157.05 217.86L158.05 217.82L159.05 217.78L160.05 217.74L161.05 217.70L162.05 217.66L163.05 217.63L164.05 217.59L165.05 217.56L166.05 217.53L167.05 217.50L168.05 217.46L169.05 217.44L170.05 217.41L171.05 217.38L172.05 217.35L173.05 217.33L174.05 217.30L175.05 217.28L176.05 217.25L177.05 217.23L178.05 217.21L179.05 217.19L180.05 217.17L181.05 217.14L182.05 217.13L183.05 217.11L184.05 217.09L185.05 217.07L186.05 217.05L187.05 217.04L188.05 217.02L189.05 217.00L190.05 216.99L191.05 216.97L192.05 216.96L193.05 216.95L194.05 216.93L195.05 216.92L196.05 216.91L197.05 216.89L198.05 216.88L199.05 216.87" stroke="#000000" stroke-width="1.0" fill="none" stroke-dasharray="4.9 4.5"/>
</g>
<g stroke="#000" stroke-width="0.6">
<line x1="58.50" x2="58.50" y1="255.30" y2="251.00"/>
<line x1="58.50" x2="58.50" y1="0.35" y2="5.65"/>
<line x1="71.50" x2="71.50" y1="255.30" y2="251.00"/>
<line x1="71.50" x2="71.50" y1="0.35" y2="5.65"/>
<line x1="81.50" x2="81.50" y1="255.30" y2="251.00"/>
<line x1="81.50" x2="81.50" y1="0.35" y2="5.65"/>
<line x1="88.50" x2="88.50" y1="255.30" y2="251.00"/>
<line x1="88.50" x2="88.50" y1="0.35" y2="5.65"/>
<line x1="94.50" x2="94.50" y1="255.30" y2="251.00"/>
<line x1="94.50" x2="94.50" y1="0.35" y2="5.65"/>
<line x1="99.50" x2="99.50" y1="255.30" y2="251.00"/>
<line x1="99.50" x2="99.50" y1="0.35" y2="5.65"/>
<line x1="103.50" x2="103.50" y1="255.30" y2="251.00"/>
<line x1="103.50" x2="103.50" y1="0.35" y2="5.65"/>
<line x1="107.50" x2="107.50" y1="255.30" y2="251.00"/>
<line x1="107.50" x2="107.50" y1="0.35" y2="5.65"/>
<line x1="110.50" x2="110.50" y1="255.30" y2="249.00"/>
<line x1="110.50" x2="110.50" y1="0.35" y2="7.65"/>
<line x1="133.50" x2="133.50" y1="255.30" y2="251.00"/>
<line x1="133.50" x2="133.50" y1="0.35" y2="5.65"/>
<line x1="146.50" x2="146.50" y1="255.30" y2="251.00"/>
<line x1="146.50" x2="146.50" y1="0.35" y2="5.65"/>
<line x1="156.50" x2="156.50" y1="255.30" y2="251.00"/>
<line x1="156.50" x2="156.50" y1="0.35" y2="5.65"/>
<line x1="163.50" x2="163.50" y1="255.30" y2="251.00"/>
<line x1="163.50" x2="163.50" y1="0.35" y2="5.65"/>
<line x1="169.50" x2="169.50" y1="255.30" y2="251.00"/>
<line x1="169.50" x2="169.50" y1="0.35" y2="5.65"/>
<line x1="174.50" x2="174.50" y1="255.30" y2="251.00"/>
<line x1="174.50" x2="174.50" y1="0.35" y2="5.65"/>
<line x1="178.50" x2="178.50" y1="255.30" y2="251.00"/>
<line x1="178.50" x2="178.50" y1="0.35" y2="5.65"/>
<line x1="182.50" x2="182.50" y1="255.30" y2="251.00"/>
<line x1="182.50" x2="182.50" y1="0.35" y2="5.65"/>
<line x1="186.50" x2="186.50" y1="255.30" y2="249.00"/>
<line x1="186.50" x2="186.50" y1="0.35" y2="7.65"/>
<line x1="208.50" x2="208.50" y1="255.30" y2="251.00"/>
<line x1="208.50" x2="208.50" y1="0.35" y2="5.65"/>
<line x1="222.50" x2="222.50" y1="255.30" y2="251.00"/>
<line x1="222.50" x2="222.50" y1="0.35" y2="5.65"/>
<line x1="231.50" x2="231.50" y1="255.30" y2="251.00"/>
<line x1="231.50" x2="231.50" y1="0.35" y2="5.65"/>
<line x1="238.50" x2="238.50" y1="255.30" y2="251.00"/>
<line x1="238.50" x2="238.50" y1="0.35" y2="5.65"/>
<line x1="244.50" x2="244.50" y1="255.30" y2="251.00"/>
<line x1="244.50" x2="244.50" y1="0.35" y2="5.65"/>
<line x1="249.50" x2="249.50" y1="255.30" y2="251.00"/>
<line x1="249.50" x2="249.50" y1="0.35" y2="5.65"/>
<line x1="254.50" x2="254.50" y1="255.30" y2="251.00"/>
<line x1="254.50" x2="254.50" y1="0.35" y2="5.65"/>
<line x1="257.50" x2="257.50" y1="255.30" y2="251.00"/>
<line x1="257.50" x2="257.50" y1="0.35" y2="5.65"/>
<line x1="261.50" x2="261.50" y1="255.30" y2="249.00"/>
<line x1="261.50" x2="261.50" y1="0.35" y2="7.65"/>
<line x1="284.50" x2="284.50" y1="255.30" y2="251.00"/>
<line x1="284.50" x2="284.50" y1="0.35" y2="5.65"/>
<line x1="297.50" x2="297.50" y1="255.30" y2="251.00"/>
<line x1="297.50" x2="297.50" y1="0.35" y2="5.65"/>
<line x1="306.50" x2="306.50" y1="255.30" y2="251.00"/>
<line x1="306.50" x2="306.50" y1="0.35" y2="5.65"/>
<line x1="313.50" x2="313.50" y1="255.30" y2="251.00"/>
<line x1="313.50" x2="313.50" y1="0.35" y2="5.65"/>
<line x1="319.50" x2="319.50" y1="255.30" y2="251.00"/>
<line x1="319.50" x2="319.50" y1="0.35" y2="5.65"/>
<line x1="324.50" x2="324.50" y1="255.30" y2="251.00"/>
<line x1="324.50" x2="324.50" y1="0.35" y2="5.65"/>
<line x1="329.50" x2="329.50" y1="255.30" y2="251.00"/>
<line x1="329.50" x2="329.50" y1="0.35" y2="5.65"/>
<line x1="333.50" x2="333.50" y1="255.30" y2="251.00"/>
<line x1="333.50" x2="333.50" y1="0.35" y2="5.65"/>
<line x1="336.50" x2="336.50" y1="255.30" y2="249.00"/>
<line x1="336.50" x2="336.50" y1="0.35" y2="7.65"/>
<line x1="359.50" x2="359.50" y1="255.30" y2="251.00"/>
<line x1="359.50" x2="359.50" y1="0.35" y2="5.65"/>
<line x1="55.35" x2="59.65" y1="236.50" y2="236.50"/>
<line x1="362.35" x2="358.05" y1="236.50" y2="236.50"/>
<line x1="55.35" x2="59.65" y1="223.50" y2="223.50"/>
<line x1="362.35" x2="358.05" y1="223.50" y2="223.50"/>
<line x1="55.35" x2="59.65" y1="214.50" y2="214.50"/>
<line x1="362.35" x2="358.05" y1="214.50" y2="214.50"/>
<line x1="55.35" x2="59.65" y1="207.50" y2="207.50"/>
<line x1="362.35" x2="358.05" y1="207.50" y2="207.50"/>
<line x1="55.35" x2="59.65" y1="201.50" y2="201.50"/>
<line x1="362.35" x2="358.05" y1="201.50" y2="201.50"/>
<line x1="55.35" x2="59.65" y1="196.50" y2="196.50"/>
<line x1="362.35" x2="358.05" y1="196.50" y2="196.50"/>
<line x1="55.35" x2="59.65" y1="192.50" y2="192.50"/>
<line x1="362.35" x2="358.05" y1="192.50" y2="192.50"/>
<line x1="55.35" x2="59.65" y1="189.50" y2="189.50"/>
<line x1="362.35" x2="358.05" y1="189.50" y2="189.50"/>
<line x1="55.35" x2="61.65" y1="185.50" y2="185.50"/>
<line x1="362.35" x2="356.05" y1="185.50" y2="185.50"/>
<line x1="55.35" x2="59.65" y1="163.50" y2="163.50"/>
<line x1="362.35" x2="358.05" y1="163.50" y2="163.50"/>
<line x1="55.35" x2="59.65" y1="151.50" y2="151.50"/>
<line x1="362.35" x2="358.05" y1="151.50" y2="151.50"/>
<line x1="55.35" x2="59.65" y1="142.50" y2="142.50"/>
<line x1="362.35" x2="358.05" y1="142.50" y2="142.50"/>
<line x1="55.35" x2="59.65" y1="135.50" y2="135.50"/>
<line x1="362.35" x2="358.05" y1="135.50" y2="135.50"/>
<line x1="55.35" x2="59.65" y1="129.50" y2="129.50"/>
<line x1="362.35" x2="358.05" y1="129.50" y2="129.50"/>
<line x1="55.35" x2="59.65" y1="124.50" y2="124.50"/>
<line x1="362.35" x2="358.05" y1="124.50" y2="124.50"/>
<line x1="55.35" x2="59.65" y1="120.50" y2="120.50"/>
<line x1="362.35" x2="358.05" y1="120.50" y2="120.50"/>
<line x1="55.35" x2="59.65" y1="116.50" y2="116.50"/>
<line x1="362.35" x2="358.05" y1="116.50" y2="116.50"/>
<line x1="55.35" x2="61.65" y1="113.50" y2="113.50"/>
<line x1="362.35" x2="356.05" y1="113.50" y2="113.50"/>
<line x1="55.35" x2="59.65" y1="91.50" y2="91.50"/>
<line x1="362.35" x2="358.05" y1="91.50" y2="91.50"/>
<line x1="55.35" x2="59.65" y1="78.50" y2="78.50"/>
<line x1="362.35" x2="358.05" y1="78.50" y2="78.50"/>
<line x1="55.35" x2="59.65" y1="69.50" y2="69.50"/>
<line x1="362.35" x2="358.05" y1="69.50" y2="69.50"/>
<line x1="55.35" x2="59.65" y1="62.50" y2="62.50"/>
<line x1="362.35" x2="358.05" y1="62.50" y2="62.50"/>
<line x1="55.35" x2="59.65" y1="56.50" y2="56.50"/>
<line x1="362.35" x2="358.05" y1="56.50" y2="56.50"/>
<line x1="55.35" x2="59.65" y1="51.50" y2="51.50"/>
<line x1="362.35" x2="358.05" y1="51.50" y2="51.50"/>
<line x1="55.35" x2="59.65" y1="47.50" y2="47.50"/>
<line x1="362.35" x2="358.05" y1="47.50" y2="47.50"/>
<line x1="55.35" x2="59.65" y1="43.50" y2="43.50"/>
<line x1="362.35" x2="358.05" y1="43.50" y2="43.50"/>
<line x1="55.35" x2="61.65" y1="40.50" y2="40.50"/>
<line x1="362.35" x2="356.05" y1="40.50" y2="40.50"/>
<line x1="55.35" x2="59.65" y1="18.50" y2="18.50"/>
<line x1="362.35" x2="358.05" y1="18.50" y2="18.50"/>
<line x1="55.35" x2="59.65" y1="5.50" y2="5.50"/>
<line x1="362.35" x2="358.05" y1="5.50" y2="5.50"/>
</g>
<rect x="55.35" y="0.35" width="307.0" height="254.95000000000002" fill="none" stroke="#000" stroke-width="1.4"/>
<g stroke-width="1.35">
<line x1="68.9" x2="97" y1="21.5" y2="21.5" stroke="#12a8ec"/>
<line x1="68.9" x2="97" y1="39.5" y2="39.5" stroke="#0000ff"/>
<line x1="68.9" x2="97" y1="58.5" y2="58.5" stroke="#00ff00"/>
<line x1="68.9" x2="97" y1="77.5" y2="77.5" stroke="#ff0000"/>
<line x1="68.9" x2="97" y1="96.5" y2="96.5" stroke="#000000"/>
</g>
<text x="102.80" y="274.90" font-size="16" text-anchor="middle">10</text>
<text x="115.20" y="268.90" font-size="11" text-anchor="middle" transform="translate(115.20 0) scale(1.55 1) translate(-115.20 0)">−</text>
<text x="123.20" y="268.90" font-size="11" text-anchor="middle">2</text>
<text x="177.90" y="274.90" font-size="16" text-anchor="middle">10</text>
<text x="190.50" y="268.90" font-size="11" text-anchor="middle" transform="translate(190.50 0) scale(1.55 1) translate(-190.50 0)">−</text>
<text x="198.50" y="268.90" font-size="11" text-anchor="middle">1</text>
<text x="257.75" y="274.90" font-size="16" text-anchor="middle">10</text>
<text x="268.80" y="268.90" font-size="11" text-anchor="middle">0</text>
<text x="333.00" y="274.90" font-size="16" text-anchor="middle">10</text>
<text x="343.95" y="268.90" font-size="11" text-anchor="middle">1</text>
<text x="34.50" y="46.90" font-size="16" text-anchor="middle">10</text>
<text x="45.60" y="41.50" font-size="11" text-anchor="middle">4</text>
<text x="34.60" y="119.90" font-size="16" text-anchor="middle">10</text>
<text x="45.60" y="114.10" font-size="11" text-anchor="middle">3</text>
<text x="34.60" y="192.20" font-size="16" text-anchor="middle">10</text>
<text x="45.60" y="186.10" font-size="11" text-anchor="middle">2</text>
<text y="24.9" font-size="15.5"><tspan x="103.5" text-anchor="middle">z</tspan></text>
<text x="112.7" y="24.9" font-size="15.5" text-anchor="middle" transform="translate(112.7 0) scale(1.3 1) translate(-112.7 0)">=</text>
<text x="123.4" y="24.9" font-size="15.5" text-anchor="middle">1</text>
<text y="43.0" font-size="15.5"><tspan x="103.5" text-anchor="middle">z</tspan></text>
<text x="112.7" y="43.0" font-size="15.5" text-anchor="middle" transform="translate(112.7 0) scale(1.3 1) translate(-112.7 0)">=</text>
<text x="123.4" y="43.0" font-size="15.5" text-anchor="middle">2</text>
<text y="62.0" font-size="15.5"><tspan x="103.5" text-anchor="middle">z</tspan></text>
<text x="112.7" y="62.0" font-size="15.5" text-anchor="middle" transform="translate(112.7 0) scale(1.3 1) translate(-112.7 0)">=</text>
<text x="123.4" y="62.0" font-size="15.5" text-anchor="middle">3</text>
<text y="81.0" font-size="15.5"><tspan x="103.5" text-anchor="middle">z</tspan></text>
<text x="112.7" y="81.0" font-size="15.5" text-anchor="middle" transform="translate(112.7 0) scale(1.3 1) translate(-112.7 0)">=</text>
<text x="123.4" y="81.0" font-size="15.5" text-anchor="middle">4</text>
<text y="100.1" font-size="15.5"><tspan x="103.5" text-anchor="middle">z</tspan></text>
<text x="112.7" y="100.1" font-size="15.5" text-anchor="middle" transform="translate(112.7 0) scale(1.3 1) translate(-112.7 0)">=</text>
<text x="123.4" y="100.1" font-size="15.5" text-anchor="middle">7</text>
<text class="al" x="172.3" y="296.5" font-size="16" textLength="71.2" lengthAdjust="spacingAndGlyphs">k (h/Mpc)</text>
<g transform="translate(12.2,198.6) rotate(-90)" class="al" font-size="16" text-anchor="middle">
<text x="0" y="0" font-style="italic" transform="translate(6.2 0) scale(1.12 1)">P</text>
<text x="0" y="0" transform="translate(14.6 0) scale(1.1 1)">(</text>
<text x="0" y="0" font-style="italic" transform="translate(22.0 0) scale(0.95 1)">k</text>
<text x="0" y="0" transform="translate(29.7 0) scale(1.0 1)">,</text>
<text x="0" y="0" font-style="italic" transform="translate(37.4 0) scale(1.15 1)">z</text>
<text x="0" y="0" transform="translate(44.95 0) scale(1.1 1)">)</text>
<text x="0" y="0" transform="translate(52.3 0) scale(1.5 1)">/</text>
<text x="0" y="0" font-style="italic" transform="translate(63.35 0) scale(1.15 1)">P</text>
<text x="0" y="0" transform="translate(71.7 0) scale(1.1 1)">(</text>
<text x="0" y="0" font-style="italic" transform="translate(78.8 0) scale(0.95 1)">k</text>
<text x="0" y="0" transform="translate(86.0 0) scale(1.0 1)">,</text>
<text x="0" y="0" font-style="italic" transform="translate(94.0 0) scale(1.15 1)">z</text>
<text x="0" y="0" transform="translate(109.15 0) scale(1.35 1)">=</text>
<text x="0" y="0" transform="translate(123.25 0) scale(1.1 1)">4</text>
<text x="0" y="0" transform="translate(131.55 0) scale(1.05 1)">9</text>
<text x="0" y="0" transform="translate(137.95 0) scale(1.1 1)">)</text>
</g>
</svg>
</body></html>
